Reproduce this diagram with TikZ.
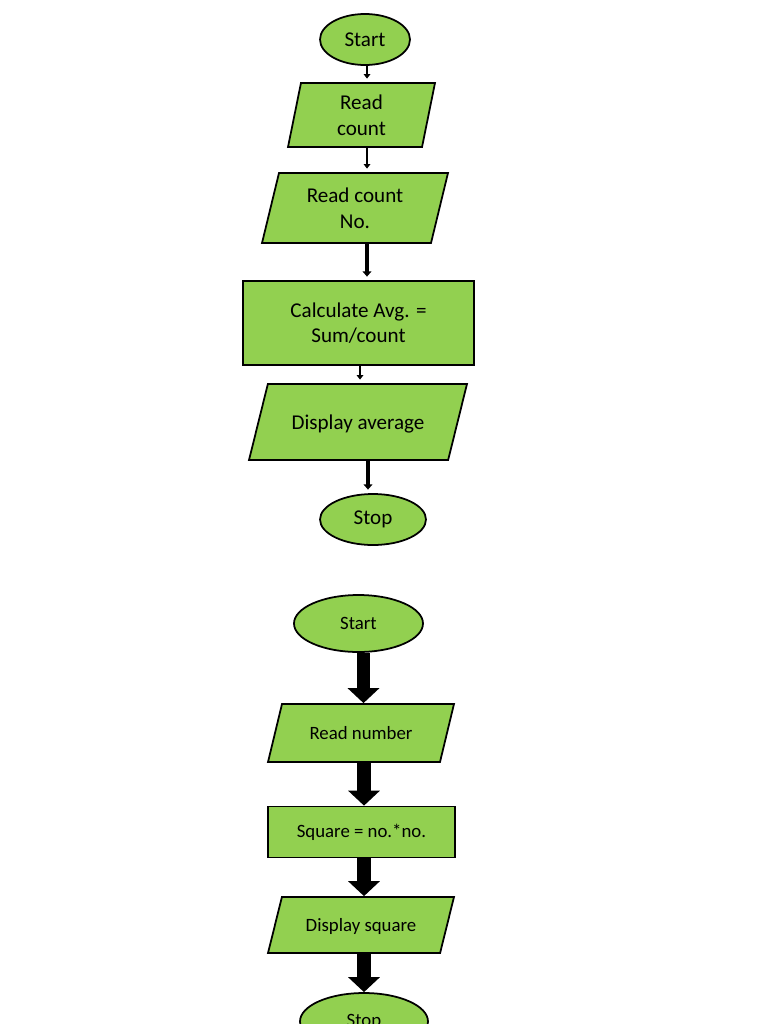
\documentclass[tikz,border=0pt]{standalone}
\usepackage{fontspec}
\setmainfont{Carlito}
\usepackage{xcolor}
\usepackage{tikz}
\usetikzlibrary{shapes.geometric,arrows.meta}
\definecolor{leaf}{HTML}{92D050}

\begin{document}
\begin{tikzpicture}[
			x=0.02cm, y=-0.02cm,
			box/.style={draw=black, line width=1pt, fill=leaf, align=center, inner xsep=1pt},
			term/.style={box, ellipse, inner sep=1pt},
			io/.style={box, trapezium, trapezium stretches body},
			proc/.style={box, rectangle, inner sep=1pt},
			big/.style={font=\fontsize{12}{14.6}\selectfont},
			small/.style={font=\fontsize{10.7}{13}\selectfont},
			oneline/.style={text height=8.4pt, text depth=0pt},
			onelinesmall/.style={text height=7.5pt, text depth=0pt},
			thinarrow/.style={-{Triangle[width=3.8pt,length=2.6pt]}, line width=1.6pt, shorten >=2pt},
			thickarrow/.style={-{Triangle[width=5pt,length=3pt]}, line width=2.4pt, shorten >=2pt},
			blockarrow/.style={-{Triangle[width=17.6pt,length=8.5pt]}, line width=7.9pt}
			]
			\useasboundingbox (0,0) rectangle (768,1024);
			
			% ---------------- first chart: average ----------------
			\node[term,big,minimum width=1.8cm,minimum height=1.02cm] (start1) at (365,39.5) {Start};
			\node[io,big,minimum width=2.94cm,minimum height=1.28cm,inner ysep=6.6pt,
			trapezium left angle=78.5,trapezium right angle=101.5] (read1) at (361.5,115) {Read\\count};
			\node[io,big,minimum width=3.72cm,minimum height=1.4cm,inner ysep=8.3pt,
			trapezium left angle=76.3,trapezium right angle=103.7] (readno) at (355,208) {Read count\\No.};
			\node[proc,big,minimum width=4.62cm,minimum height=1.68cm] (calc) at (358.5,323) {Calculate Avg. =\\Sum/count};
			\node[io,big,oneline,minimum width=4.36cm,minimum height=1.52cm,inner ysep=17.3pt,
			trapezium left angle=76,trapezium right angle=104] (disp1) at (358,422) {Display average};
			\node[term,big,minimum width=2.12cm,minimum height=1.02cm] (stop1) at (373,519.5) {Stop};
			
			\draw[thinarrow] ([xshift=0.04cm]start1.south) -- ([xshift=0.04cm]start1.south |- read1.north);
			\draw[thinarrow] ([xshift=0.11cm]read1.south) -- ([xshift=0.11cm]read1.south |- readno.north);
			\draw[thickarrow] ([xshift=0.24cm]readno.south) -- ([xshift=0.24cm]readno.south |- calc.north);
			\draw[thinarrow] ([xshift=0.03cm]calc.south) -- ([xshift=0.03cm]calc.south |- disp1.north);
			\draw[thickarrow] ([xshift=0.2cm]disp1.south) -- ([xshift=0.2cm]disp1.south |- stop1.north);
			
			% ---------------- second chart: square ----------------
			\node[term,small,minimum width=2.58cm,minimum height=1.14cm] (start2) at (358.5,623.5) {Start};
			\node[io,small,onelinesmall,minimum width=3.72cm,minimum height=1.16cm,inner ysep=12.7pt,
			trapezium left angle=76.4,trapezium right angle=103.6] (read2) at (361,733) {Read number};
			\node[proc,small,minimum width=3.74cm,minimum height=1.02cm] (sq) at (361.5,832) {Square = no.*no.};
			\node[io,small,onelinesmall,minimum width=3.72cm,minimum height=1.12cm,inner ysep=12.1pt,
			trapezium left angle=76,trapezium right angle=104] (disp2) at (361,925) {Display square};
			\node[term,small,minimum width=2.56cm,minimum height=1.14cm] (stop2) at (364,1021.5) {Stop};
			
			\draw[blockarrow] ([xshift=0.1cm]start2.south) -- ([xshift=0.1cm]start2.south |- read2.north);
			\draw[blockarrow] ([xshift=0.06cm]read2.south) -- ([xshift=0.06cm]read2.south |- sq.north);
			\draw[blockarrow] ([xshift=0.05cm]sq.south) -- ([xshift=0.05cm]sq.south |- disp2.north);
			\draw[blockarrow] ([xshift=0.06cm]disp2.south) -- ([xshift=0.06cm]disp2.south |- stop2.north);
			
		\end{tikzpicture}
\end{document}
